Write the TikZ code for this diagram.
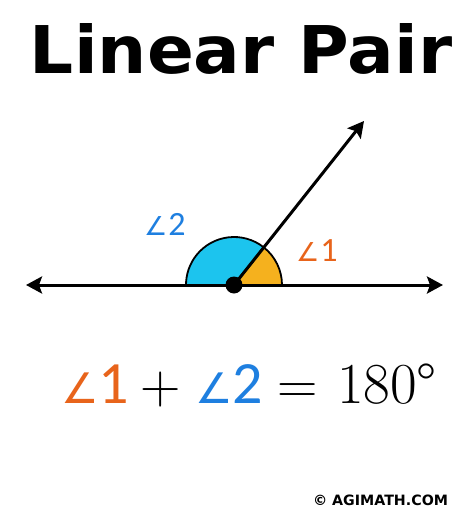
\documentclass[tikz,border=0pt]{standalone}
\usepackage{fontspec}
\usetikzlibrary{arrows.meta,calc}
\newfontfamily\dejavu{DejaVu Sans}
\newfontfamily\carlito{Carlito}
\definecolor{angorange}{HTML}{E8641B}
\definecolor{angblue}{HTML}{1E7FE0}
\definecolor{fillcyan}{HTML}{1CC4EE}
\definecolor{fillorange}{HTML}{F5B11E}
\tikzset{
  txt/.style={inner sep=0pt, outer sep=0pt},
  mainline/.style={line width=3pt, line cap=butt, >={Stealth[length=16pt,width=17pt,inset=3pt]}},
  sector/.style={draw=black, line width=1.8pt, line join=round},
}
\newcommand{\angsym}[1]{{\dejavu\fontsize{#1}{#1}\selectfont ∠}}
\begin{document}
\begin{tikzpicture}[x=1pt,y=1pt]
\useasboundingbox[fill=white] (0,0) rectangle (474,-522);
% title
\node[txt, anchor=base west] (title) at (30,-73)
  {\resizebox{422pt}{50pt}{\dejavu\bfseries Linear Pair}};
% geometry
\coordinate (O) at (234,-285);
\coordinate (L) at (26,-285);
\coordinate (R) at (443,-285);
\coordinate (T) at (364,-121);
\filldraw[sector, fill=fillorange] (O) -- ++(48,0) arc[start angle=0, end angle=51.7, radius=48] -- cycle;
\filldraw[sector, fill=fillcyan] (O) -- ++(51.7:48) arc[start angle=51.7, end angle=180, radius=48] -- cycle;
\draw[mainline, <->] (L) -- (R);
\draw[mainline, ->] (O) -- (T);
\node[circle, fill=black, inner sep=0pt, minimum size=17pt] (dot) at (O) {};
% angle labels
\node[txt, anchor=base west, text=angblue] (a2) at (144,-235)
  {\angsym{26}\hspace{1pt}{\carlito\fontsize{34}{34}\selectfont 2}};
\node[txt, anchor=base west, text=angorange] (a1) at (296,-261)
  {\angsym{26}\hspace{1pt}{\carlito\fontsize{34}{34}\selectfont 1}};
% equation
\node[txt, anchor=base west] (e1) at (61,-403)
  {\textcolor{angorange}{\angsym{42}{\carlito\fontsize{60}{60}\selectfont 1}}};
\node[txt, anchor=base west] (plus) at (140,-403)
  {\fontsize{56}{56}\selectfont +};
\node[txt, anchor=base west] (e2) at (195,-403)
  {\textcolor{angblue}{\angsym{42}{\carlito\fontsize{60}{60}\selectfont 2}}};
\node[txt, anchor=base west] (eq) at (277,-403)
  {\fontsize{56}{56}\selectfont =};
\node[txt, anchor=base west] (val) at (337,-403)
  {\fontsize{58}{58}\selectfont 180°};
% copyright
\node[txt, anchor=base west] (copy) at (313,-505)
  {\resizebox{135pt}{!}{\dejavu\bfseries © AGIMATH.COM}};
\end{tikzpicture}
\end{document}
